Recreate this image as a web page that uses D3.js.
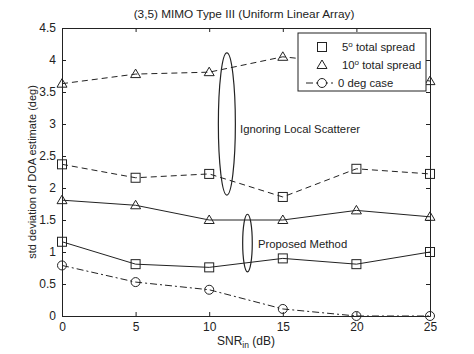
<!DOCTYPE html>
<html>
<head>
<meta charset="utf-8">
<script src="https://cdn.jsdelivr.net/npm/d3@7"></script>
<style>
  body { margin: 0; background: #fff; }
  svg text { font-family: "Liberation Sans", Arial, sans-serif; fill: #222; }
</style>
</head>
<body>
<svg id="chart" width="474" height="354"></svg>
<script>
// chart data
const snr = [0, 5, 10, 15, 20, 25];
const ignore10 = [3.63, 3.78, 3.81, 4.05, 3.93, 3.67];
const ignore5 = [2.37, 2.16, 2.22, 1.86, 2.30, 2.22];
const proposed10 = [1.81, 1.73, 1.50, 1.50, 1.65, 1.55];
const proposed5 = [1.16, 0.81, 0.76, 0.90, 0.81, 1.00];
const zeroDeg = [0.79, 0.53, 0.41, 0.11, 0.0, 0.0];
const xTicks = [0, 5, 10, 15, 20, 25];
const yTicks = [0, 0.5, 1, 1.5, 2, 2.5, 3, 3.5, 4, 4.5];

const svg = d3.select("#chart");
const margin = { left: 62, right: 44, top: 28, bottom: 38 };
const width = 474, height = 354;

const x = d3.scaleLinear().domain([0, 25]).range([margin.left, width - margin.right]);
const y = d3.scaleLinear().domain([0, 4.5]).range([height - margin.bottom, margin.top]);

const ink = "#222";

// axes with inward ticks (matlab look)
svg.append("g")
  .attr("transform", `translate(0,${y(0)})`)
  .call(d3.axisBottom(x).tickValues(xTicks).tickSize(-4).tickPadding(6).tickSizeOuter(0))
  .call(g => g.selectAll("text").attr("font-size", 12));
svg.append("g")
  .attr("transform", `translate(0,${y(4.5)})`)
  .call(d3.axisTop(x).tickValues(xTicks).tickSize(-4).tickFormat("").tickSizeOuter(0));
svg.append("g")
  .attr("transform", `translate(${x(0)},0)`)
  .call(d3.axisLeft(y).tickValues(yTicks).tickSize(-4).tickPadding(6).tickSizeOuter(0).tickFormat(d3.format("")))
  .call(g => g.selectAll("text").attr("font-size", 12));
svg.append("g")
  .attr("transform", `translate(${x(25)},0)`)
  .call(d3.axisRight(y).tickValues(yTicks).tickSize(-4).tickFormat("").tickSizeOuter(0));
svg.selectAll(".domain, .tick line").attr("stroke", ink);

// series
const line = d3.line().x((d, i) => x(snr[i])).y(d => y(d));

function drawMarker(g, cx, cy, marker, fill) {
  if (marker === "square") {
    g.append("rect").attr("x", cx - 4.5).attr("y", cy - 4.5).attr("width", 9).attr("height", 9)
      .attr("fill", fill).attr("stroke", ink);
  } else if (marker === "triangle") {
    g.append("path")
      .attr("d", `M${cx},${cy - 5}L${cx + 5},${cy + 3.5}L${cx - 5},${cy + 3.5}Z`)
      .attr("fill", fill).attr("stroke", ink);
  } else {
    g.append("circle").attr("cx", cx).attr("cy", cy).attr("r", 4.5)
      .attr("fill", fill).attr("stroke", ink);
  }
}

function drawSeries(vals, dash, marker) {
  svg.append("path")
    .datum(vals)
    .attr("d", line)
    .attr("fill", "none")
    .attr("stroke", ink)
    .attr("stroke-width", 1)
    .attr("stroke-dasharray", dash);
  vals.forEach((v, i) => drawMarker(svg, x(snr[i]), y(v), marker, "none"));
}

drawSeries(ignore10, "6,4", "triangle");
drawSeries(ignore5, "6,4", "square");
drawSeries(proposed10, null, "triangle");
drawSeries(proposed5, null, "square");
drawSeries(zeroDeg, "7,3,2,3", "circle");

// ellipses and notes
svg.append("ellipse")
  .attr("cx", x(11.2)).attr("cy", y(3.0))
  .attr("rx", 8.5).attr("ry", y(1.89) - y(3.0))
  .attr("fill", "none").attr("stroke", ink).attr("stroke-width", 1.2);
svg.append("text").attr("x", 240).attr("y", 133).attr("font-size", 11.3).text("Ignoring Local Scatterer");

svg.append("ellipse")
  .attr("cx", x(12.6)).attr("cy", y(1.14))
  .attr("rx", 4.8).attr("ry", y(0.69) - y(1.14))
  .attr("fill", "none").attr("stroke", ink).attr("stroke-width", 1.2);
svg.append("text").attr("x", 258).attr("y", 248).attr("font-size", 11.3).text("Proposed Method");

// legend
const lg = svg.append("g");
lg.append("rect").attr("x", 298).attr("y", 33).attr("width", 128).attr("height", 58)
  .attr("fill", "#fff").attr("stroke", ink);
const legendRows = [
  { marker: "square", label: ["5", "o", " total spread"], dash: null },
  { marker: "triangle", label: ["10", "o", " total spread"], dash: null },
  { marker: "circle", label: ["0 deg case"], dash: "7,3,2,3" }
];
legendRows.forEach((r, i) => {
  const cy = 47 + i * 18;
  if (r.dash) {
    lg.append("line").attr("x1", 306).attr("x2", 336).attr("y1", cy).attr("y2", cy)
      .attr("stroke", ink).attr("stroke-dasharray", r.dash);
  }
  drawMarker(lg, 322, cy, r.marker, "#fff");
  const t = lg.append("text").attr("x", i === 2 ? 338 : 342).attr("y", cy + 4).attr("font-size", 11.3);
  t.append("tspan").text(r.label[0]);
  if (r.label.length > 1) {
    t.append("tspan").attr("dy", -4).attr("font-size", 8).text(r.label[1]);
    t.append("tspan").attr("dy", 4).text(r.label[2]);
  }
});

// title and axis labels
svg.append("text").attr("x", 244).attr("y", 18).attr("text-anchor", "middle").attr("font-size", 11.8)
  .text("(3,5) MIMO Type III (Uniform Linear Array)");
const xl = svg.append("text").attr("x", 246).attr("y", 345).attr("text-anchor", "middle").attr("font-size", 12);
xl.append("tspan").text("SNR");
xl.append("tspan").attr("dy", 3).attr("font-size", 8.5).text("in");
xl.append("tspan").attr("dy", -3).text(" (dB)");
svg.append("text")
  .attr("transform", `translate(36,${(y(0) + y(4.5)) / 2}) rotate(-90)`)
  .attr("text-anchor", "middle").attr("font-size", 11)
  .text("std deviation of DOA estimate (deg)");
</script>
</body>
</html>
